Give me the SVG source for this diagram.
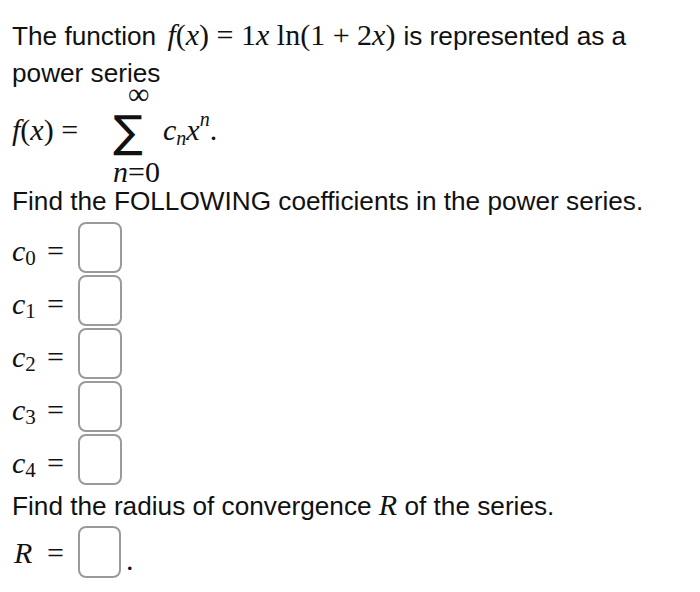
<svg xmlns="http://www.w3.org/2000/svg" width="700" height="592" viewBox="0 0 700 592">
<style>
.t{font-family:"Liberation Sans",Arial,sans-serif;font-size:26.2px;fill:#111}
.m{font-family:"Liberation Serif","DejaVu Serif",serif;font-size:30px;fill:#111}
.mi{font-family:"Liberation Serif","DejaVu Serif",serif;font-size:30px;font-style:italic;fill:#111}
.b{fill:#fff;stroke:#9a9a9a;stroke-width:2}
</style>
<rect width="700" height="592" fill="#fff"/>
<text x="12" y="45" class="t">The function <tspan class="mi" dx="4">f</tspan><tspan class="m">(</tspan><tspan class="mi">x</tspan><tspan class="m">) = 1</tspan><tspan class="mi">x</tspan><tspan class="m"> ln(1 + 2</tspan><tspan class="mi">x</tspan><tspan class="m">)</tspan><tspan dx="8">is represented as a</tspan></text>
<text x="12" y="82" class="t">power series</text>
<text x="12" y="140" class="m"><tspan class="mi">f</tspan>(<tspan class="mi">x</tspan>) =</text>
<text x="113" y="147" font-family="DejaVu Sans,sans-serif" font-size="44" fill="#111">∑</text>
<text x="128" y="104" class="m" font-size="16">∞</text>
<text x="113" y="182" class="mi" font-size="20">n<tspan font-style="normal">=0</tspan></text>
<text x="163" y="140" class="mi">c<tspan font-size="20" dy="5">n</tspan><tspan dy="-5">x</tspan><tspan font-size="20" dy="-14">n</tspan><tspan dy="14" font-style="normal">.</tspan></text>
<text x="12" y="210" class="t">Find the FOLLOWING coefficients in the power series.</text>
<g id="c0"><text x="12" y="261" class="mi">c<tspan font-size="21" font-style="normal" dy="4">0</tspan></text><text x="47" y="261" class="m">=</text><rect class="b" x="79" y="223" width="42" height="49" rx="7"/></g>
<g id="c1"><text x="12" y="314" class="mi">c<tspan font-size="21" font-style="normal" dy="4">1</tspan></text><text x="47" y="314" class="m">=</text><rect class="b" x="79" y="276" width="42" height="49" rx="7"/></g>
<g id="c2"><text x="12" y="367" class="mi">c<tspan font-size="21" font-style="normal" dy="4">2</tspan></text><text x="47" y="367" class="m">=</text><rect class="b" x="79" y="329" width="42" height="49" rx="7"/></g>
<g id="c3"><text x="12" y="420" class="mi">c<tspan font-size="21" font-style="normal" dy="4">3</tspan></text><text x="47" y="420" class="m">=</text><rect class="b" x="79" y="382" width="42" height="49" rx="7"/></g>
<g id="c4"><text x="12" y="473" class="mi">c<tspan font-size="21" font-style="normal" dy="4">4</tspan></text><text x="47" y="473" class="m">=</text><rect class="b" x="79" y="435" width="42" height="49" rx="7"/></g>
<text x="12" y="515" class="t">Find the radius of convergence <tspan class="mi">R</tspan> of the series.</text>
<g id="R"><text x="14" y="563" class="mi">R</text><text x="47" y="563" class="m">=</text><rect class="b" x="79" y="527" width="41" height="50" rx="7"/><text x="126" y="570" class="m">.</text></g>
</svg>
